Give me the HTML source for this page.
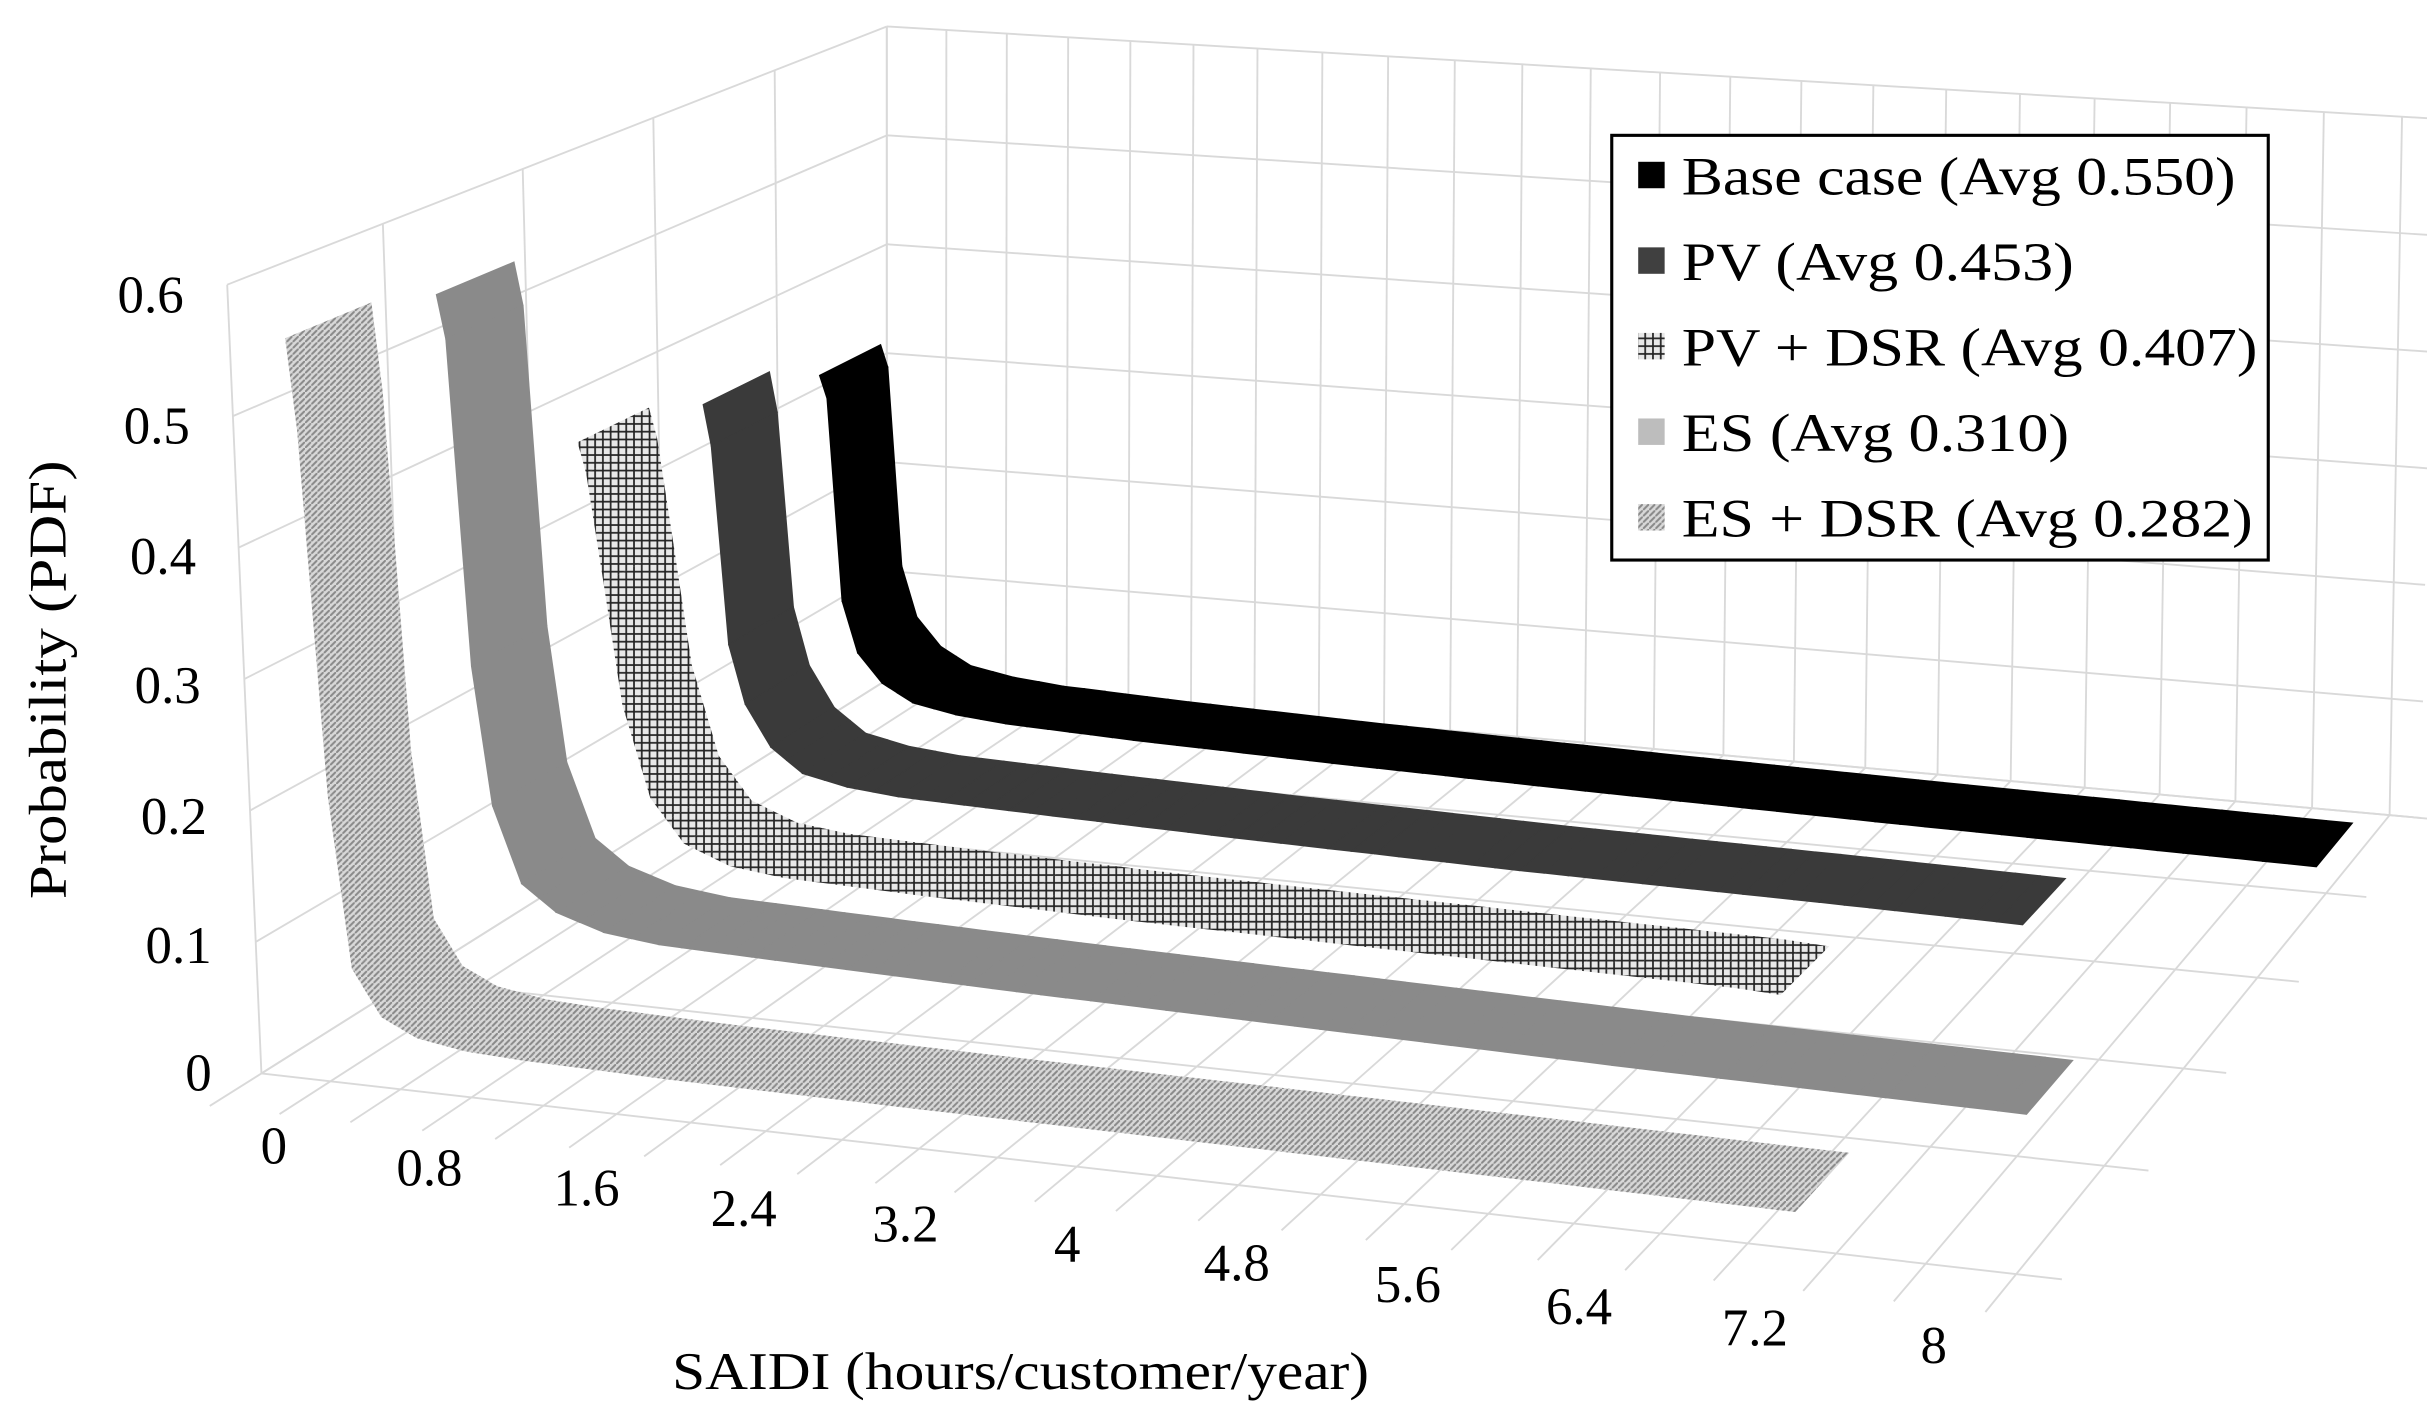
<!DOCTYPE html>
<html><head><meta charset="utf-8">
<style>
html,body{margin:0;padding:0;background:#fff;}
svg{display:block;}
text{font-family:"Liberation Serif",serif;fill:#000;}
</style></head>
<body>
<svg id="s" width="2427" height="1411" viewBox="0 0 1560 907" xmlns="http://www.w3.org/2000/svg">
<defs>
<pattern id="hatch" patternUnits="userSpaceOnUse" width="5" height="5">
<rect width="5" height="5" fill="#e8e8e8"/>
<path d="M0 2.5H5M2.5 0V5" stroke="#222" stroke-width="1.1"/>
</pattern>
<pattern id="diag" patternUnits="userSpaceOnUse" width="4" height="4">
<rect width="4" height="4" fill="#d8d8d8"/>
<path d="M-1 5L5 -1" stroke="#8a8a8a" stroke-width="1.3"/>
</pattern>
</defs>
<g id="grid" stroke="#d9d9d9" stroke-width="1.2" fill="none"></g>
<g id="ser"></g>
<g font-size="34" text-anchor="end">
<text x="118" y="201">0.6</text>
<text x="122" y="285">0.5</text>
<text x="126" y="369">0.4</text>
<text x="129" y="452">0.3</text>
<text x="133" y="536">0.2</text>
<text x="136" y="619">0.1</text>
<text x="136" y="701">0</text>
</g>
<text font-size="34" transform="translate(42,578) rotate(-90)" textLength="282" lengthAdjust="spacingAndGlyphs">Probability  (PDF)</text>
<g font-size="34" text-anchor="middle">
<text x="176" y="748">0</text>
<text x="276" y="762">0.8</text>
<text x="377" y="775">1.6</text>
<text x="478" y="788">2.4</text>
<text x="582" y="798">3.2</text>
<text x="686" y="811">4</text>
<text x="795" y="823">4.8</text>
<text x="905" y="837">5.6</text>
<text x="1015" y="851">6.4</text>
<text x="1128" y="865">7.2</text>
<text x="1243" y="876">8</text>
</g>
<text x="432" y="893" font-size="34" textLength="448" lengthAdjust="spacingAndGlyphs">SAIDI  (hours/customer/year)</text>
<rect x="1036" y="87" width="422" height="273" fill="#fff" stroke="#000" stroke-width="2"/>
<rect x="1053" y="104" width="17" height="17" fill="#000"/>
<rect x="1053" y="159" width="17" height="17" fill="#404040"/>
<rect x="1053" y="214" width="17" height="17" fill="url(#hatch)"/>
<rect x="1053" y="269" width="17" height="17" fill="#bdbdbd"/>
<rect x="1053" y="324" width="17" height="17" fill="url(#diag)"/>
<g font-size="35">
<text x="1081" y="125" textLength="356" lengthAdjust="spacingAndGlyphs">Base case (Avg 0.550)</text>
<text x="1081" y="180" textLength="252" lengthAdjust="spacingAndGlyphs">PV (Avg 0.453)</text>
<text x="1081" y="235" textLength="370" lengthAdjust="spacingAndGlyphs">PV + DSR (Avg 0.407)</text>
<text x="1081" y="290" textLength="249" lengthAdjust="spacingAndGlyphs">ES (Avg 0.310)</text>
<text x="1081" y="345" textLength="367" lengthAdjust="spacingAndGlyphs">ES + DSR (Avg 0.282)</text>
</g>
</svg>
<script>
(function(){
var NS="http://www.w3.org/2000/svg";
var F={FL:[168,690],BL:[570,437],BR:[1536,524],FR:[1296,819]};
var T={FL:[146,183],BL:[570,17],BR:[1544,75],FR:[1301,279]};
var wt=[0,.236,.448,.646,.830,1];
function dw(d){if(d<=0)return d*wt[1];if(d>=5)return 1+(d-5)*(1-wt[4]);var i=Math.floor(d),f=d-i;return wt[i]+(wt[i+1]-wt[i])*f;}
function xu(x){return (x+0.0075*x*x)/(22+0.0075*484);}
function bil(C,u,w){var r=[0,0];for(var k=0;k<2;k++){r[k]=(1-u)*(1-w)*C.FL[k]+(1-u)*w*C.BL[k]+u*w*C.BR[k]+u*(1-w)*C.FR[k];}return r;}
function P(x,d,v){var u=xu(x),w=dw(d);var a=bil(F,u,w),b=bil(T,u,w),t=v/0.6;return [a[0]+(b[0]-a[0])*t,a[1]+(b[1]-a[1])*t];}
var g=document.getElementById("grid");
function line(p,q){var l=document.createElementNS(NS,"line");l.setAttribute("x1",p[0]);l.setAttribute("y1",p[1]);l.setAttribute("x2",q[0]);l.setAttribute("y2",q[1]);g.appendChild(l);}
var v,k,j;
for(k=0;k<=22;k++)line(P(k,5,0),P(k,5,0.6));
for(v=0;v<=6;v++)line(P(0,5,v/10),P(22.4,5,v/10));
for(j=0;j<=5;j++)line(P(0,j,0),P(0,j,0.6));
for(v=0;v<=6;v++)line(P(0,0,v/10),P(0,5,v/10));
for(j=0;j<=5;j++)line(P(0,j,0),P(22.5,j,0));
for(k=0;k<=22;k++)line(P(k,-0.35,0),P(k,5,0));
var S=document.getElementById("ser");
var X=[0,0.12,0.35,0.6,1,1.5,2.2,3,5,8,12,16,1];
var series=[
 {k:4,fill:"#000",end:21.4,v:[0.32,0.30,0.12,0.075,0.05,0.035,0.028,0.024,0.02,0.016,0.012,0.009,0.006]},
 {k:3,fill:"#3a3a3a",end:18.6,v:[0.345,0.31,0.14,0.09,0.055,0.035,0.027,0.023,0.02,0.016,0.012,0.01,0.008]},
 {k:2,fill:"url(#hatch)",end:16.6,v:[0.365,0.34,0.25,0.15,0.075,0.04,0.025,0.02,0.017,0.014,0.012,0.01,0.008]},
 {k:1,fill:"#8a8a8a",end:20.6,v:[0.535,0.50,0.24,0.13,0.07,0.05,0.038,0.033,0.03,0.026,0.022,0.018,0.015]},
 {k:0,fill:"url(#diag)",end:19.0,v:[0.55,0.48,0.20,0.07,0.035,0.022,0.016,0.014,0.012,0.011,0.01,0.009,0.008]}
];
series.forEach(function(s){
 var xs=X.slice();xs[xs.length-1]=s.end;
 for(var q=0;q<xs.length;q++)xs[q]+=0.3;
 var d0=s.k+0.22,d1=s.k+0.78;
 var grp=document.createElementNS(NS,"g");
 for(var i=0;i<xs.length-1;i++){
  var n=Math.max(1,Math.round((xs[i+1]-xs[i])*3));
  for(var m=0;m<n;m++){
   var xa=xs[i]+(xs[i+1]-xs[i])*m/n,xb=xs[i]+(xs[i+1]-xs[i])*(m+1)/n;
   var va=s.v[i]+(s.v[i+1]-s.v[i])*m/n,vb=s.v[i]+(s.v[i+1]-s.v[i])*(m+1)/n;
   var pts=[P(xa,d0,va),P(xb,d0,vb),P(xb,d1,vb),P(xa,d1,va)];
   var pg=document.createElementNS(NS,"polygon");
   pg.setAttribute("points",pts.map(function(p){return p[0].toFixed(1)+","+p[1].toFixed(1);}).join(" "));
   pg.setAttribute("fill",s.fill);
   if(s.fill.charAt(0)=="#"){pg.setAttribute("stroke",s.fill);pg.setAttribute("stroke-width","0.8");}
   grp.appendChild(pg);
  }
 }
 S.appendChild(grp);
});
})();
</script>
</body></html>
